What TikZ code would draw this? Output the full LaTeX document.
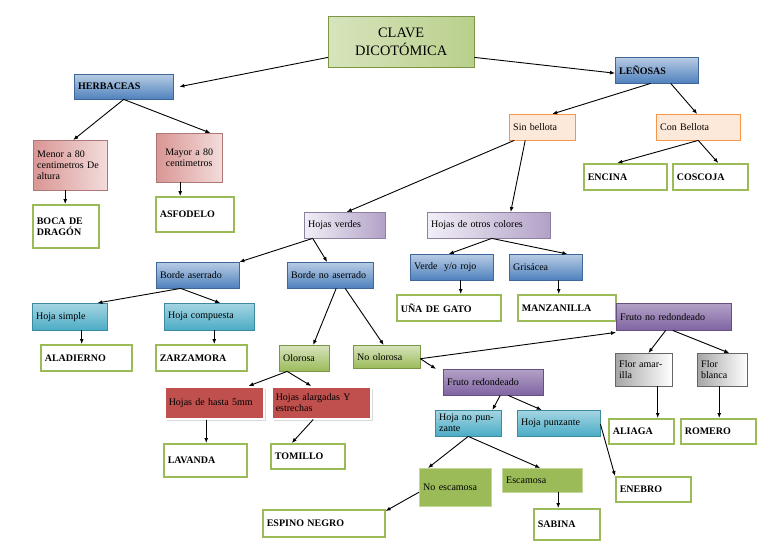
\documentclass[tikz,border=0pt]{standalone}
\usepackage{fontspec}
\setmainfont{Liberation Serif}
\usetikzlibrary{arrows.meta,shadows,calc}
\definecolor{azul}{HTML}{4F81BD}
\definecolor{azulc}{HTML}{B8CCE4}
\definecolor{rosa}{HTML}{D99694}
\definecolor{rosac}{HTML}{F2DCDB}
\definecolor{verde}{HTML}{9BBB59}
\definecolor{verdec}{HTML}{D7E4BD}
\definecolor{naranja}{HTML}{F79646}
\definecolor{naranjac}{HTML}{FDE9D9}
\definecolor{lila}{HTML}{B2A1C7}
\definecolor{lilac}{HTML}{F2EFF7}
\definecolor{cian}{HTML}{4BACC6}
\definecolor{cianc}{HTML}{A5D5E2}
\definecolor{rojo}{HTML}{C0504D}
\definecolor{morado}{HTML}{8064A2}
\definecolor{moradoc}{HTML}{B3A2C7}
\tikzset{
    caja/.style={draw=#1!80!black, line width=0.4pt, drop shadow={opacity=0.35,shadow xshift=1.2pt,shadow yshift=-1.2pt}},
    azulbox/.style={caja=azul, top color=azulc, bottom color=azul},
    rosabox/.style={caja=rosa, left color=rosa, right color=rosac},
    naranjabox/.style={draw=naranja, fill=naranjac},
    lilabox/.style={caja=lila, left color=lilac, right color=lila},
    cianbox/.style={caja=cian, top color=cianc, bottom color=cian},
    olivabox/.style={caja=verde, top color=verdec, bottom color=verde},
    verdebox/.style={draw=verde!60, fill=verde},
    rojobox/.style={draw=white, line width=1.5pt, fill=rojo, drop shadow={opacity=0.3}},
    moradobox/.style={caja=morado, top color=moradoc, bottom color=morado},
    grisbox/.style={caja=gray, left color=gray!70, right color=white},
    hoja/.style={draw=verde, line width=1.6pt, fill=white, font=\bfseries},
    titulo/.style={caja=verde, left color=verdec, right color=verde!70, font=\Large, align=center},
    flecha/.style={-{Latex[length=5pt,width=4pt]}, line width=0.9pt},
}
% caja: nombre, x1, y1, x2, y2, estilo, texto
\newcommand\bx[7]{%
  \pgfmathsetmacro\bw{#4-#2}\pgfmathsetmacro\bh{#5-#3}\pgfmathsetmacro\tw{#4-#2-8}%
  \node[#6, anchor=north west, inner sep=4pt, minimum width=\bw pt, minimum height=\bh pt,
        text width=\tw pt, align=left, font=\fontsize{10}{11}\selectfont] (#1) at (#2,#3) {#7};}
\begin{document}
\begin{tikzpicture}[x=1pt,y=-1pt]
  \useasboundingbox (0,0) rectangle (768,543);
  % titulo
  \node[titulo, anchor=north west, minimum width=146pt, minimum height=51pt] (clave) at (328,16) {CLAVE\\DICOTÓMICA};
  % herbaceas
  \bx{herb}{74}{74}{173}{99}{azulbox, font=\bfseries\small, align=center}{\centering\bfseries HERBACEAS}
  \bx{menor}{33}{140}{107}{190}{rosabox}{\centering Menor a 80 centimetros De altura}
  \bx{mayor}{156}{133}{222}{182}{rosabox}{\centering Mayor a 80 centimetros\\[6pt]}
  \bx{boca}{32}{204}{98}{247}{hoja}{\bfseries BOCA DE DRAGÓN\\[6pt]}
  \bx{asfo}{155}{196}{233}{231}{hoja}{\bfseries ASFODELO\\[6pt]}
  % lenosas
  \bx{leno}{615}{57}{698}{83}{azulbox}{\centering\bfseries LEÑOSAS}
  \bx{sin}{509}{114}{575}{140}{naranjabox}{Sin bellota}
  \bx{con}{656}{114}{740}{140}{naranjabox}{Con Bellota}
  \bx{encina}{583}{163}{666}{189}{hoja}{\centering\bfseries ENCINA}
  \bx{coscoja}{672}{163}{747}{189}{hoja}{\centering\bfseries COSCOJA}
  \bx{verdes}{304}{212}{385}{238}{lilabox}{Hojas verdes}
  \bx{otros}{427}{212}{550}{238}{lilabox}{Hojas de otros colores}
  \bx{rojo}{410}{254}{493}{280}{azulbox}{Verde~ y/o rojo}
  \bx{gris}{509}{254}{582}{280}{azulbox}{Grisácea}
  \bx{una}{396}{294}{500}{320}{hoja}{\bfseries UÑA DE GATO}
  \bx{manz}{517}{294}{615}{320}{hoja}{\bfseries MANZANILLA}
  \bx{aserr}{156}{262}{239}{288}{azulbox}{Borde aserrado}
  \bx{noaserr}{287}{262}{373}{288}{azulbox}{Borde no aserrado}
  \bx{simple}{32}{303}{107}{330}{cianbox}{Hoja simple}
  \bx{compu}{164}{303}{254}{330}{cianbox}{Hoja compuesta}
  \bx{aladi}{40}{344}{131}{370}{hoja}{\bfseries ALADIERNO}
  \bx{zarza}{155}{344}{246}{370}{hoja}{\bfseries ZARZAMORA}
  \bx{olor}{279}{345}{329}{371}{olivabox}{\centering Olorosa}
  \bx{noolor}{353}{345}{420}{368}{olivabox}{No olorosa}
  \bx{hasta}{164}{386}{263}{418}{rojobox}{Hojas de hasta 5mm}
  \bx{alarg}{271}{386}{370}{418}{rojobox}{Hojas alargadas Y estrechas}
  \bx{lavan}{163}{443}{246}{476}{hoja}{\bfseries LAVANDA\\[5pt]}
  \bx{tomi}{270}{443}{344}{468}{hoja}{\bfseries TOMILLO}
  \bx{espino}{262}{509}{384}{536}{hoja}{\bfseries ESPINO NEGRO}
  \bx{frutono}{616}{303}{731}{330}{moradobox}{Fruto no redondeado}
  \bx{frutored}{443}{369}{543}{395}{moradobox}{Fruto redondeado}
  \bx{amar}{615}{353}{672}{386}{grisbox}{Flor amarilla}
  \bx{blanca}{697}{353}{747}{386}{grisbox}{Flor blanca}
  \bx{aliaga}{608}{418}{673}{443}{hoja}{\bfseries ALIAGA}
  \bx{romero}{680}{418}{755}{443}{hoja}{\centering\bfseries ROMERO}
  \bx{nopunz}{435}{410}{501}{436}{cianbox}{Hoja no punzante}
  \bx{punz}{517}{410}{600}{436}{cianbox}{Hoja punzante}
  \bx{enebro}{615}{476}{690}{501}{hoja}{\bfseries ENEBRO}
  \bx{noesca}{419}{468}{491}{506}{verdebox}{No escamosa\\[10pt]}
  \bx{esca}{502}{468}{582}{492}{verdebox}{Escamosa}
  \bx{sabina}{533}{508}{599}{539}{hoja}{\bfseries SABINA\\[3pt]}
  % flechas
  \draw[flecha] ([yshift=10pt]clave.south west) -- ([xshift=6pt]herb.east);
  \draw[flecha] ([yshift=10pt]clave.south east) -- ([yshift=-3pt]leno.west);
  \draw[flecha] (herb.south) -- ([xshift=3pt]menor.north);
  \draw[flecha] (herb.south) -- ([xshift=-12pt]mayor.north east);
  \draw[flecha] ([xshift=-5pt]menor.south) -- ([xshift=-5pt]menor.south |- boca.north);
  \draw[flecha] ([xshift=-9pt]mayor.south) -- ([xshift=-9pt]mayor.south |- asfo.north);
  \draw[flecha] ([xshift=-6pt]leno.south) -- ([xshift=10pt]sin.north);
  \draw[flecha] ([xshift=14pt]leno.south) -- ([xshift=-1pt]con.north);
  \draw[flecha] (con.south) -- ([xshift=-8pt]encina.north);
  \draw[flecha] (con.south) -- ([xshift=8pt]coscoja.north);
  \draw[flecha] ([xshift=-28pt]sin.south) -- ([xshift=2pt]verdes.north);
  \draw[flecha] ([xshift=-17pt]sin.south) -- ([xshift=22pt]otros.north);
  \draw[flecha] ([xshift=3pt]otros.south) -- ([xshift=-3pt]rojo.north);
  \draw[flecha] ([xshift=3pt]otros.south) -- ([xshift=-15pt]gris.north east);
  \draw[flecha] ([xshift=9pt]rojo.south) -- ([xshift=9pt]rojo.south |- una.north);
  \draw[flecha] ([xshift=13pt]gris.south) -- ([xshift=13pt]gris.south |- manz.north);
  \draw[flecha] ([xshift=-32pt]verdes.south) -- (aserr.north east);
  \draw[flecha] ([xshift=-32pt]verdes.south) -- ([xshift=-3pt]noaserr.north);
  \draw[flecha] ([xshift=-17pt]aserr.south) -- ([xshift=-10pt]simple.north east);
  \draw[flecha] ([xshift=-17pt]aserr.south) -- ([xshift=11pt]compu.north);
  \draw[flecha] ([xshift=12pt]simple.south) -- ([xshift=12pt]simple.south |- aladi.north);
  \draw[flecha] ([xshift=5pt]compu.south) -- ([xshift=5pt]compu.south |- zarza.north);
  \draw[flecha] ([xshift=6pt]noaserr.south) -- ([xshift=9pt]olor.north);
  \draw[flecha] ([xshift=15pt]noaserr.south) -- ([xshift=-3pt]noolor.north);
  \draw[flecha] ([xshift=-17pt]olor.south) -- ([xshift=-16pt]hasta.north east);
  \draw[flecha] ([xshift=-17pt]olor.south) -- ([xshift=-10pt]alarg.north);
  \draw[flecha] ([xshift=-8pt]hasta.south) -- ([xshift=-8pt]hasta.south |- lavan.north);
  \draw[flecha] ([xshift=-8pt]alarg.south) -- ([xshift=-16pt]tomi.north);
  \draw[flecha] ([yshift=-2pt]noolor.east) -- ([yshift=-2pt]frutono.south west);
  \draw[flecha] ([yshift=-2pt]noolor.east) -- ([xshift=-7pt]frutored.north west);
  \draw[flecha] ([xshift=-8pt]frutono.south) -- ([xshift=-24pt]amar.north east);
  \draw[flecha] ([xshift=-1pt]frutono.south) -- ([xshift=7pt]blanca.north);
  \draw[flecha] ([xshift=14pt]amar.south) -- ([xshift=14pt]amar.south |- aliaga.north);
  \draw[flecha] ([xshift=-3pt]blanca.south) -- ([xshift=-3pt]blanca.south |- romero.north);
  \draw[flecha] ([xshift=7pt]frutored.south) -- ([xshift=-9pt]nopunz.north east);
  \draw[flecha] ([xshift=15pt]frutored.south) -- ([xshift=-17pt]punz.north);
  \draw[flecha] (nopunz.south) -- ([xshift=9pt]noesca.north west);
  \draw[flecha] (nopunz.south) -- ([xshift=-2pt]esca.north);
  \draw[flecha] ([yshift=-14pt]punz.north east) -- (enebro.north west);
  \draw[flecha] ([yshift=-5pt]noesca.west) -- ([yshift=-2pt]espino.north east);
  \draw[flecha] ([xshift=16pt]esca.south) -- ([xshift=16pt]esca.south |- sabina.north);
\end{tikzpicture}
\end{document}
